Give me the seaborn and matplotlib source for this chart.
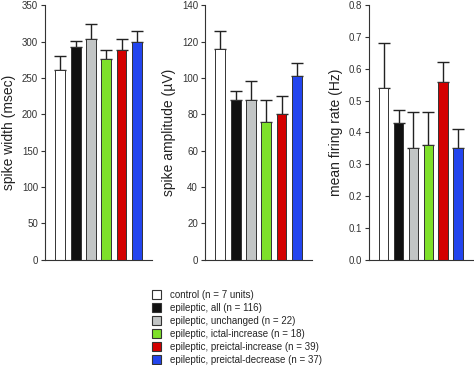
import numpy as np
import seaborn as sns
import matplotlib.pyplot as plt
from matplotlib.patches import Patch

groups = ['control (n = 7 units)', 'epileptic, all (n = 116)',
          'epileptic, unchanged (n = 22)', 'epileptic, ictal-increase (n = 18)',
          'epileptic, preictal-increase (n = 39)', 'epileptic, preictal-decrease (n = 37)']
colors = ['#ffffff', '#111111', '#c2c5c5', '#7ee02a', '#d30000', '#2345ee']

spike_width = [261, 293, 304, 276, 288, 299]
spike_width_err = [19, 8, 20, 13, 15, 16]
spike_amp = [116, 88, 88, 76, 80, 101]
spike_amp_err = [10, 5, 10.5, 12, 10, 7]
firing_rate = [0.54, 0.43, 0.35, 0.36, 0.56, 0.35]
firing_rate_err = [0.14, 0.04, 0.115, 0.105, 0.06, 0.06]

sns.set_style('ticks')
plt.rcParams['font.family'] = ['Liberation Sans', 'DejaVu Sans']

fig = plt.figure(figsize=(4.74, 3.65), dpi=100)

panels = [
    (spike_width, spike_width_err, 'spike width (msec)', (0, 350), np.arange(0, 351, 50), '{:.0f}',
     [0.095, 0.288, 0.226, 0.698]),
    (spike_amp, spike_amp_err, 'spike amplitude (\u00b5V)', (0, 140), np.arange(0, 141, 20), '{:.0f}',
     [0.4325, 0.288, 0.226, 0.698]),
    (firing_rate, firing_rate_err, 'mean firing rate (Hz)', (0, 0.8), np.arange(0, 0.81, 0.1), '{:.1f}',
     [0.778, 0.288, 0.22, 0.698]),
]

for vals, errs, label, ylim, ticks, fmt, pos in panels:
    ax = fig.add_axes(pos)
    x = np.arange(len(groups))
    ax.errorbar(x, vals, yerr=[np.zeros(len(vals)), errs], fmt='none', ecolor='#222222',
                elinewidth=1.0, capsize=4, capthick=1.0, zorder=1)
    sns.barplot(x=groups, y=vals, hue=groups, palette=colors, legend=False, saturation=1,
                edgecolor='#333333', linewidth=0.7, width=0.64, errorbar=None, ax=ax, zorder=2)
    ax.set_xlim(-1.0, 6.0)
    ax.set_ylim(*ylim)
    ax.set_yticks(ticks)
    ax.set_yticklabels([fmt.format(t) for t in ticks])
    ax.set_xticks([])
    ax.set_xlabel('')
    ax.set_ylabel(label, fontsize=10, labelpad=4, color='#222222')
    ax.tick_params(axis='y', labelsize=7, length=3, width=0.8, color='#333333', labelcolor='#333333', pad=2)
    sns.despine(ax=ax)
    for s in ['left', 'bottom']:
        ax.spines[s].set_linewidth(0.8)
        ax.spines[s].set_color('#333333')

handles = [Patch(facecolor=c, edgecolor='#333333', linewidth=0.8) for c in colors]
fig.legend(handles, groups, loc='upper left', bbox_to_anchor=(0.32, 0.205), frameon=False,
           fontsize=7, handlelength=1.0, handleheight=1.0, handletextpad=0.9,
           labelspacing=0.3, borderaxespad=0, borderpad=0)

fig.savefig('out.png', dpi=100)
